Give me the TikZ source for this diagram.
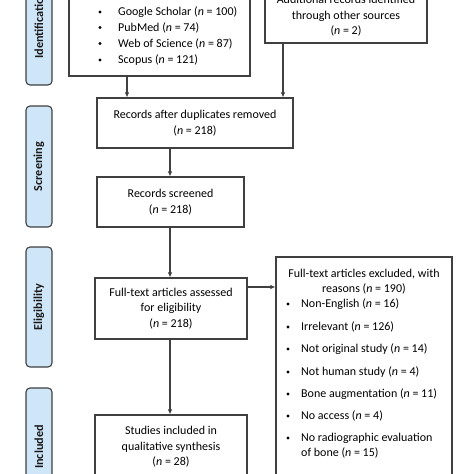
\documentclass[tikz,border=0pt]{standalone}
\usepackage{fontspec}
\setmainfont{Carlito}
\usetikzlibrary{arrows.meta}
\definecolor{lbl}{HTML}{CFE6F9}
\definecolor{ln}{HTML}{404040}
\begin{document}
\begin{tikzpicture}[x=1pt,y=-1pt,
  box/.style={draw=ln, line width=1.1pt, inner sep=0pt, align=center, font=\fontsize{12}{15.5}\selectfont},
  stage/.style={draw=ln, line width=1.1pt, fill=lbl, rounded corners=4pt, minimum width=26pt, inner sep=0pt},
  stagetext/.style={rotate=90, inner sep=0pt, font=\fontsize{12.2}{13}\selectfont\bfseries, text=black!90},
  txt/.style={inner sep=0pt, font=\fontsize{12}{15.5}\selectfont, anchor=west, align=left},
  ctxt/.style={inner sep=0pt, font=\fontsize{12}{15.5}\selectfont, align=center},
  arr/.style={draw=ln, line width=1.1pt, -{Latex[length=5pt,width=4.5pt]}},
  dot/.style={circle, fill=black, inner sep=0pt, minimum size=3.4pt}
]
\useasboundingbox (0,0) rectangle (474,474);
\clip (0,0) rectangle (474,474);
\fill[white] (0,0) rectangle (474,474);

% stage labels
\node[stage, minimum height=120pt] (s1) at (39,25) {};
\node[stagetext] (t1) at (s1) {Identification};
\node[stage, minimum height=121pt] (s2) at (39,166.5) {};
\node[stagetext] (t2) at (s2) {Screening};
\node[stage, minimum height=120pt] (s3) at (39,307) {};
\node[stagetext] (t3) at (s3) {Eligibility};
\node[stage, minimum height=120pt] (s4) at (39,448) {};
\node[stagetext] (t4) at (39,447) {Included};

% boxes
\node[box, minimum width=181pt, minimum height=96pt] (ident) at (159.5,28) {};
\node[box, minimum width=162pt, minimum height=63pt] (add) at (346,11.5) {};
\node[box, minimum width=196pt, minimum height=50pt] (dup) at (195,123)
  {Records after duplicates removed\\(\textit{n} = 218)};
\node[box, minimum width=147pt, minimum height=50pt] (scr) at (170.5,202)
  {Records screened\\(\textit{n} = 218)};
\node[box, minimum width=152pt, minimum height=61pt] (ass) at (171,308.5)
  {Full-text articles assessed\\for eligibility\\(\textit{n} = 218)};
\node[box, minimum width=152pt, minimum height=85pt] (inc) at (171,457.5) {};
\node[box, minimum width=176pt, minimum height=243pt] (exc) at (364,378.5) {};

% identification bullets
\node[dot] (d1) at (100,12) {};
\node[txt] (l1) at (118,12) {Google Scholar (\textit{n} = 100)};
\node[dot] (d2) at (100,27.5) {};
\node[txt] (l2) at (118,27.5) {PubMed (\textit{n} = 74)};
\node[dot] (d3) at (100,43.5) {};
\node[txt] (l3) at (118,43.5) {Web of Science (\textit{n} = 87)};
\node[dot] (d4) at (100,60) {};
\node[txt] (l4) at (118,60) {Scopus (\textit{n} = 121)};

% additional records text
\node[ctxt] (addt) at (346,16) {Additional records identified\\through other sources\\(\textit{n} = 2)};

% included text
\node[ctxt] (inct) at (171,447) {Studies included in\\qualitative synthesis\\(\textit{n} = 28)};

% excluded text
\node[ctxt] (exch) at (364,281.5) {Full-text articles excluded, with\\reasons (\textit{n} = 190)};
\node[dot] (e1) at (288,304) {};
\node[txt] (x1) at (301,304) {Non-English (\textit{n} = 16)};
\node[dot] (e2) at (288,327) {};
\node[txt] (x2) at (301,327) {Irrelevant (\textit{n} = 126)};
\node[dot] (e3) at (288,349) {};
\node[txt] (x3) at (301,349) {Not original study (\textit{n} = 14)};
\node[dot] (e4) at (288,372) {};
\node[txt] (x4) at (301,372) {Not human study (\textit{n} = 4)};
\node[dot] (e5) at (288,394) {};
\node[txt] (x5) at (301,394) {Bone augmentation (\textit{n} = 11)};
\node[dot] (e6) at (288,416) {};
\node[txt] (x6) at (301,416) {No access (\textit{n} = 4)};
\node[dot] (e7) at (288,438) {};
\node[txt] (x7) at (301,445.5) {No radiographic evaluation\\of bone (\textit{n} = 15)};

% connectors
\coordinate (xa) at (127,0);
\coordinate (xb) at (283,0);
\coordinate (xc) at (170,0);
\coordinate (ya) at (0,287);
\draw[arr] (ident.south -| xa) -- (dup.north -| xa);
\draw[arr] (add.south -| xb) -- (dup.north -| xb);
\draw[arr] (dup.south -| xc) -- (scr.north -| xc);
\draw[arr] (scr.south -| xc) -- (ass.north -| xc);
\draw[arr] (ass.east |- ya) -- (exc.west |- ya);
\draw[arr] (ass.south -| xc) -- (inc.north -| xc);
\end{tikzpicture}
\end{document}
